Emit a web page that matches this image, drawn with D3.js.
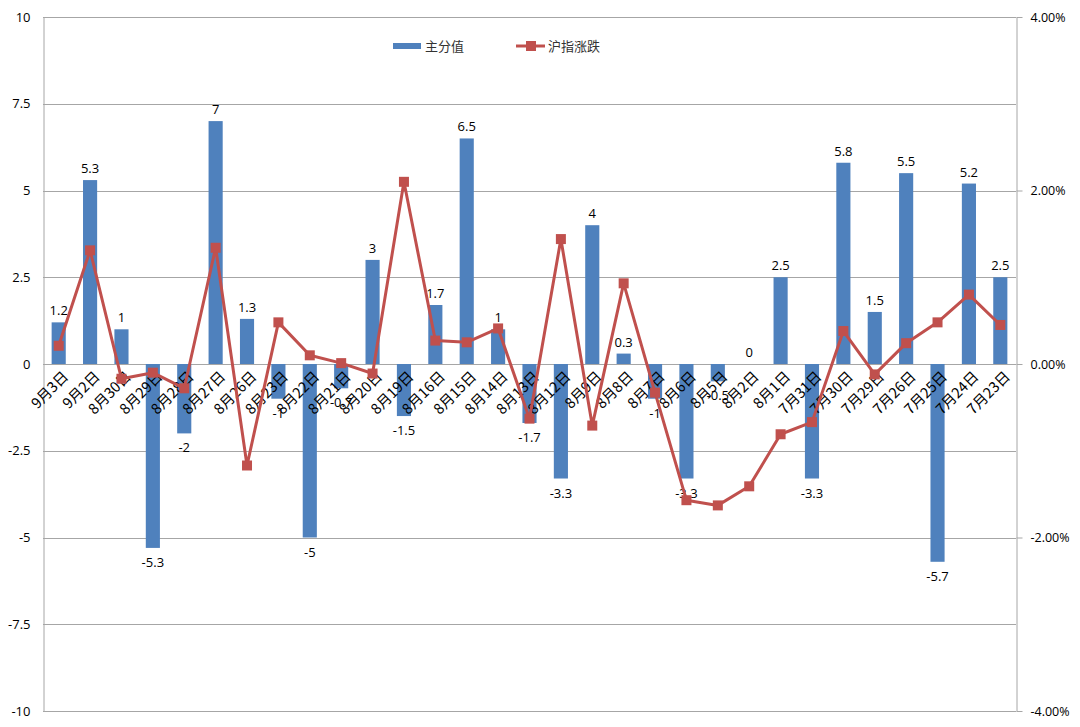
<!DOCTYPE html>
<html>
<head>
<meta charset="utf-8">
<script src="https://cdn.jsdelivr.net/npm/d3@7"></script>
<style>
    body { margin: 0; background: #fff; }
    text { font-family: "Open Sans", "Noto Sans CJK SC", sans-serif; }
    .cjk { font-family: "Noto Sans CJK SC", sans-serif; }
</style>
</head>
<body>
<div id="canvas"></div>
<script>
"use strict"

let svgWidth = 1080
let svgHeight = 727

let topMargin = 17;
let rightMargin = 64;
let bottomMargin = 16;
let leftMargin = 43;

// category labels, left to right
let dates = ["9月3日", "9月2日", "8月30日", "8月29日", "8月28日", "8月27日", "8月26日", "8月23日",
    "8月22日", "8月21日", "8月20日", "8月19日", "8月16日", "8月15日", "8月14日", "8月13日",
    "8月12日", "8月9日", "8月8日", "8月7日", "8月6日", "8月5日", "8月2日", "8月1日",
    "7月31日", "7月30日", "7月29日", "7月26日", "7月25日", "7月24日", "7月23日"]

// 主分值 (bars, left axis)
let scores = [1.2, 5.3, 1, -5.3, -2, 7, 1.3, -1, -5, -0.7, 3, -1.5, 1.7, 6.5, 1, -1.7,
    -3.3, 4, 0.3, -1, -3.3, -0.5, 0, 2.5, -3.3, 5.8, 1.5, 5.5, -5.7, 5.2, 2.5]

// 沪指涨跌 in percent (line, right axis)
let indexChange = [0.21, 1.31, -0.17, -0.10, -0.28, 1.34, -1.17, 0.48, 0.10, 0.01, -0.11, 2.10,
    0.27, 0.25, 0.41, -0.63, 1.44, -0.71, 0.93, -0.33, -1.57, -1.63, -1.41, -0.81,
    -0.67, 0.38, -0.12, 0.24, 0.48, 0.80, 0.45]

let leftTicks = [10, 7.5, 5, 2.5, 0, -2.5, -5, -7.5, -10]
let rightTicks = [4, 2, 0, -2, -4]

let barColor = "#4F81BD"
let lineColor = "#C0504D"

let data = dates.map(function (d, i) {
    return { date: d, score: scores[i], change: indexChange[i] };
});

let svg = d3.select("#canvas")
    .append("svg")
    .attr("width", svgWidth)
    .attr("height", svgHeight)

let xScale = d3.scaleBand()
    .domain(dates)
    .range([leftMargin, svgWidth - rightMargin])
    .paddingInner(0.55)
    .paddingOuter(0.275)

let yScale = d3.scaleLinear()
    .domain([-10, 10])
    .range([svgHeight - bottomMargin, topMargin])

let y2Scale = d3.scaleLinear()
    .domain([-4, 4])
    .range([svgHeight - bottomMargin, topMargin])

let xCenter = function (d) { return xScale(d) + xScale.bandwidth() / 2; }

/* gridlines */
svg.selectAll("line.grid")
    .data(leftTicks)
    .join("line")
    .classed("grid", true)
    .attr("x1", leftMargin)
    .attr("x2", svgWidth - rightMargin)
    .attr("y1", function (v) { return Math.round(yScale(v)) + 0.5; })
    .attr("y2", function (v) { return Math.round(yScale(v)) + 0.5; })
    .attr("stroke", "#A6A6A6")
    .attr("stroke-width", 1)

/* left axis */
let yAxis = svg.append("g")
    .attr("transform", `translate(${leftMargin + 0.5},0)`)
    .call(d3.axisLeft(yScale).tickValues(leftTicks).tickSize(0).tickPadding(13)
        .tickFormat(function (v) { return String(v); }))
yAxis.select(".domain").attr("stroke", "#A6A6A6")
yAxis.selectAll("text").attr("font-size", 13).attr("fill", "#000")
    .style("font-family", "'Open Sans', sans-serif")

/* right axis */
let y2Axis = svg.append("g")
    .attr("transform", `translate(${svgWidth - rightMargin + 0.5},0)`)
    .call(d3.axisRight(y2Scale).tickValues(rightTicks).tickSize(6).tickSizeOuter(0).tickPadding(8)
        .tickFormat(function (v) { return v.toFixed(2) + "%"; }))
y2Axis.select(".domain").attr("stroke", "#A6A6A6")
y2Axis.selectAll("line").attr("stroke", "#A6A6A6")
y2Axis.selectAll("text").attr("font-size", 12.5).attr("fill", "#000")
    .style("font-family", "'Open Sans', sans-serif")

/* bars */
svg.selectAll("rect.bar")
    .data(data)
    .join("rect")
    .classed("bar", true)
    .attr("x", function (d) { return xScale(d.date); })
    .attr("width", xScale.bandwidth())
    .attr("y", function (d) { return yScale(Math.max(0, d.score)); })
    .attr("height", function (d) { return Math.abs(yScale(d.score) - yScale(0)); })
    .attr("fill", barColor)

/* category labels */
svg.selectAll("text.xlabel")
    .data(data)
    .join("text")
    .classed("xlabel cjk", true)
    .attr("transform", function (d) {
        return `translate(${xCenter(d.date) + 7},${yScale(0) + 10}) rotate(-45)`;
    })
    .attr("text-anchor", "end")
    .attr("dy", "0.35em")
    .attr("font-size", 14.5)
    .attr("fill", "#000")
    .text(function (d) { return d.date; })

/* bar value labels */
svg.selectAll("text.value")
    .data(data)
    .join("text")
    .classed("value", true)
    .attr("x", function (d) { return xCenter(d.date); })
    .attr("y", function (d) {
        if (d.score >= 0) {
            return yScale(d.score) - 7;
        }
        return yScale(d.score) + 19;
    })
    .attr("text-anchor", "middle")
    .attr("font-size", 13)
    .attr("fill", "#000")
    .text(function (d) { return String(d.score); })

/* index line */
let line = d3.line()
    .x(function (d) { return xCenter(d.date); })
    .y(function (d) { return y2Scale(d.change); })

svg.append("path")
    .datum(data)
    .attr("d", line)
    .attr("fill", "none")
    .attr("stroke", lineColor)
    .attr("stroke-width", 3)
    .attr("stroke-linejoin", "round")

svg.selectAll("rect.marker")
    .data(data)
    .join("rect")
    .classed("marker", true)
    .attr("x", function (d) { return xCenter(d.date) - 5; })
    .attr("y", function (d) { return y2Scale(d.change) - 5; })
    .attr("width", 10)
    .attr("height", 10)
    .attr("fill", lineColor)

/* legend */
let legend = svg.append("g").attr("transform", "translate(393,46)")
legend.append("rect")
    .attr("x", 0).attr("y", -3).attr("width", 28).attr("height", 6)
    .attr("fill", barColor)
legend.append("text")
    .classed("cjk", true)
    .attr("x", 32).attr("y", 0).attr("dy", "0.35em")
    .attr("font-size", 13).attr("fill", "#333")
    .text("主分值")
legend.append("line")
    .attr("x1", 123).attr("x2", 152).attr("y1", 0).attr("y2", 0)
    .attr("stroke", lineColor).attr("stroke-width", 3)
legend.append("rect")
    .attr("x", 133).attr("y", -5).attr("width", 10).attr("height", 10)
    .attr("fill", lineColor)
legend.append("text")
    .classed("cjk", true)
    .attr("x", 155).attr("y", 0).attr("dy", "0.35em")
    .attr("font-size", 13).attr("fill", "#333")
    .text("沪指涨跌")
</script>
</body>
</html>
